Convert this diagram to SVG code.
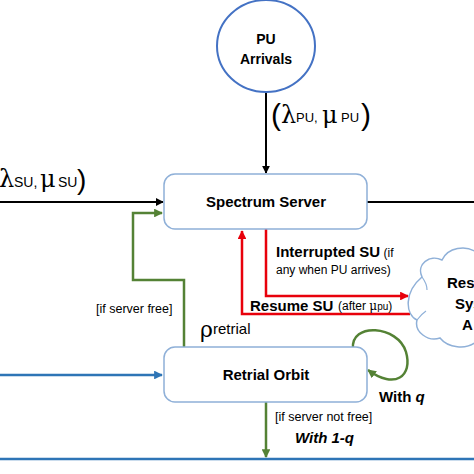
<svg xmlns="http://www.w3.org/2000/svg" width="474" height="474" viewBox="0 0 474 474">
<style>
.box{fill:#fff;stroke:#8fb0d8;stroke-width:1.5}
.t{font-family:"Liberation Sans",Arial,sans-serif;fill:#000}
.b{font-weight:bold}
.gr{font-family:"DejaVu Serif","Liberation Serif",serif;fill:#000}
.blk{stroke:#000;stroke-width:2;fill:none}
.red{stroke:#e8000b;stroke-width:2.5;fill:none}
.grn{stroke:#548235;stroke-width:2.5;fill:none}
.blu{stroke:#2e75b6;stroke-width:2.5;fill:none}
</style>
<defs>
<marker id="ak" viewBox="0 0 10 10" refX="9" refY="5" markerWidth="4" markerHeight="4" orient="auto" markerUnits="strokeWidth"><path d="M0,0L10,5L0,10z" fill="#000"/></marker>
<marker id="ar" viewBox="0 0 10 10" refX="9" refY="5" markerWidth="3.5" markerHeight="3.5" orient="auto" markerUnits="strokeWidth"><path d="M0,0L10,5L0,10z" fill="#e8000b"/></marker>
<marker id="ag" viewBox="0 0 10 10" refX="9" refY="5" markerWidth="3.5" markerHeight="3.5" orient="auto" markerUnits="strokeWidth"><path d="M0,0L10,5L0,10z" fill="#548235"/></marker>
<marker id="ab" viewBox="0 0 10 10" refX="9" refY="5" markerWidth="3.5" markerHeight="3.5" orient="auto" markerUnits="strokeWidth"><path d="M0,0L10,5L0,10z" fill="#2e75b6"/></marker>
</defs>
<rect width="474" height="474" fill="#fff"/>

<g id="connectors">
<line class="blk" x1="266" y1="92" x2="266" y2="173" marker-end="url(#ak)"/>
<line class="blk" x1="0" y1="202" x2="163" y2="202" marker-end="url(#ak)"/>
<line class="blk" x1="367" y1="202" x2="474" y2="202"/>
<polyline class="grn" points="184,347 184,280 133,280 133,213 162,213" marker-end="url(#ag)"/>
<polyline class="red" points="266,229 266,296 408,296" marker-end="url(#ar)"/>
<polyline class="red" points="410,314 242,314 242,231" marker-end="url(#ar)"/>
<line class="blu" x1="0" y1="375" x2="162" y2="375" marker-end="url(#ab)"/>
<path class="grn" d="M353,349 C350,322 398,325 406,352 C413,376 395,390 368,370" marker-end="url(#ag)"/>
<line class="grn" x1="266" y1="402" x2="266" y2="457" marker-end="url(#ag)"/>
<line class="blu" x1="0" y1="459" x2="474" y2="459"/>
</g>

<g id="pu-arrivals">
<ellipse cx="266" cy="46" rx="49" ry="46" fill="#fff" stroke="#4472c4" stroke-width="2"/>
<text class="t b" x="266" y="44" font-size="14" text-anchor="middle">PU</text>
<text class="t b" x="266" y="64" font-size="14" text-anchor="middle">Arrivals</text>
</g>

<g id="spectrum-server">
<rect class="box" x="164" y="174" width="203" height="55" rx="11"/>
<text class="t b" x="266" y="207" font-size="15" text-anchor="middle">Spectrum Server</text>
</g>

<g id="retrial-orbit">
<rect class="box" x="164" y="347" width="203" height="55" rx="11"/>
<text class="t b" x="266" y="380" font-size="15" text-anchor="middle">Retrial Orbit</text>
</g>

<g id="cloud">
<path d="M422,277 C416,264 430,254 442,260 C448,247 466,245 476,252 L476,342 C466,350 448,348 440,338 C428,342 414,332 417,320 C405,314 404,292 422,277 Z" fill="#fff" stroke="#8fb0d8" stroke-width="1.5"/>
<path d="M422,277 C425,281 427,286 427,290 M417,320 C420,316 423,313 426,311" fill="none" stroke="#8fb0d8" stroke-width="1.2"/>
<text class="t b" x="447" y="288" font-size="15">Res</text>
<text class="t b" x="455" y="309" font-size="15">Sys</text>
<text class="t b" x="462" y="330" font-size="15">A</text>
</g>

<g id="labels">
<text class="t" x="271" y="125" font-size="30">(</text>
<text class="gr" x="281" y="123" font-size="24">λ</text>
<text class="t" x="296" y="122" font-size="13">PU,</text>
<text class="gr" x="322" y="123" font-size="24">μ</text>
<text class="t" x="341" y="122" font-size="13">PU</text>
<text class="t" x="361" y="125" font-size="30">)</text>

<text class="gr" x="-1" y="187" font-size="24">λ</text>
<text class="t" x="14" y="187" font-size="14">SU,</text>
<text class="gr" x="40" y="187" font-size="24">μ</text>
<text class="t" x="58" y="187" font-size="14">SU</text>
<text class="t" x="77" y="189" font-size="28">)</text>

<text class="t" x="96" y="313" font-size="12.5">[if server free]</text>

<text class="t" x="276" y="257" font-size="15"><tspan class="b">Interrupted SU</tspan><tspan font-size="12"> (if</tspan></text>
<text class="t" x="276" y="274" font-size="12">any when PU arrives)</text>
<text class="t" x="250" y="311" font-size="15"><tspan class="b">Resume SU</tspan></text>
<text class="t" x="338" y="310" font-size="12">(after <tspan font-family="DejaVu Serif,serif">μ</tspan><tspan font-size="10">pu</tspan>)</text>

<text class="gr" x="200" y="337" font-size="22">ρ</text>
<text class="t" x="213" y="334" font-size="15">retrial</text>

<text class="t b" x="379" y="402" font-size="15">With <tspan font-style="italic">q</tspan></text>
<text class="t" x="275" y="421" font-size="12.5">[if server not free]</text>
<text class="t b" x="295" y="443" font-size="15" font-style="italic">With 1-q</text>
</g>
</svg>
